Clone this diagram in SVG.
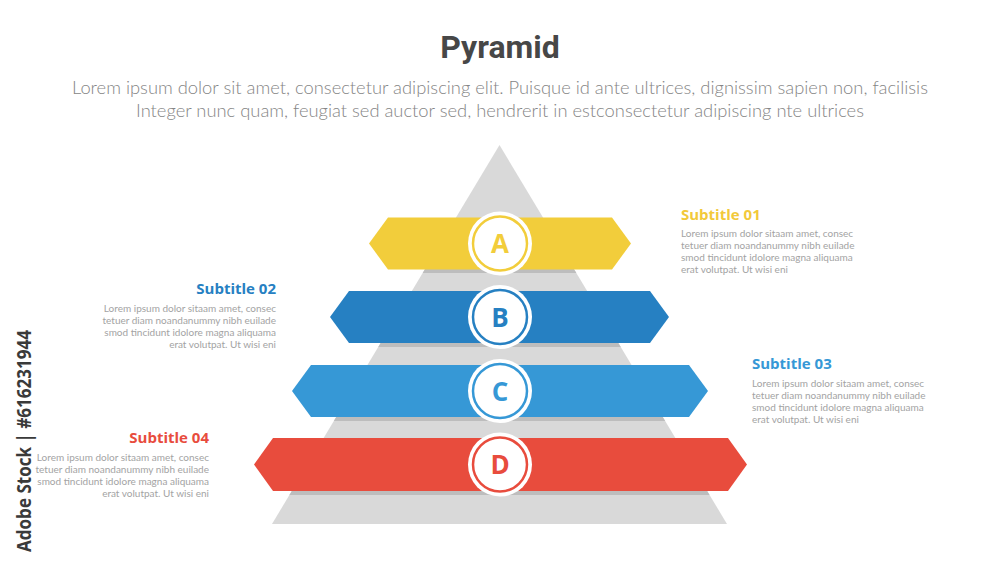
<svg xmlns="http://www.w3.org/2000/svg" width="1000" height="563" viewBox="0 0 1000 563">
<style>
.title{font-family:Roboto,"Liberation Sans",sans-serif;font-weight:700;font-size:32px;fill:#474747}
.lead{font-family:Lato,"Liberation Sans",sans-serif;font-weight:300;font-size:18.35px;fill:#858585}
.sub{font-family:"Open Sans","Liberation Sans",sans-serif;font-weight:700;font-size:15px}
.body{font-family:Lato,"Liberation Sans",sans-serif;font-size:10px;fill:#a3a3a3}
.letter{font-family:"Open Sans","Liberation Sans",sans-serif;font-weight:700;font-size:26px;text-anchor:middle}
.ring{fill:#fff;stroke-width:2.5}
.wm{font-family:"Open Sans","Liberation Sans",sans-serif;font-weight:700;font-size:19px;fill:#3a3a3a}
</style>
<defs>
<clipPath id="tri"><polygon points="499.5,145 272,524 727,524"/></clipPath>
</defs>
<rect width="1000" height="563" fill="#fff"/>
<text class="title" x="500" y="58" text-anchor="middle">Pyramid</text>
<text class="lead" x="500" y="94" text-anchor="middle">Lorem ipsum dolor sit amet, consectetur adipiscing elit. Puisque id ante ultrices, dignissim sapien non, facilisis</text>
<text class="lead" x="500" y="117" text-anchor="middle">Integer nunc quam, feugiat sed auctor sed, hendrerit in estconsectetur adipiscing nte ultrices</text>

<g id="pyramid">
<polygon points="499.5,145 272,524 727,524" fill="#d9d9d9"/>
<g clip-path="url(#tri)" fill="#bdbdbd">
<rect x="250" y="269" width="500" height="4"/>
<rect x="250" y="343" width="500" height="4"/>
<rect x="250" y="417" width="500" height="4"/>
<rect x="250" y="491" width="500" height="4"/>
</g>
</g>

<g id="node-a">
<polygon points="369,243.5 388,217.5 612,217.5 631,243.5 612,269.5 388,269.5" fill="#f2cd3b"/>
<circle cx="500" cy="243.5" r="32" fill="#fff"/>
<circle class="ring" cx="500" cy="243.5" r="27" stroke="#f2cd3b"/>
<text class="letter" x="500" y="253" fill="#f2cd3b">A</text>
</g>
<g id="node-b">
<polygon points="330,317 349,291 650,291 669,317 650,343 349,343" fill="#2680c2"/>
<circle cx="500" cy="317" r="32" fill="#fff"/>
<circle class="ring" cx="500" cy="317" r="27" stroke="#2680c2"/>
<text class="letter" x="500" y="326.5" fill="#2680c2">B</text>
</g>
<g id="node-c">
<polygon points="292,391 311,365 689,365 708,391 689,417 311,417" fill="#3698d6"/>
<circle cx="500" cy="391" r="32" fill="#fff"/>
<circle class="ring" cx="500" cy="391" r="27" stroke="#3698d6"/>
<text class="letter" x="500" y="400.5" fill="#3698d6">C</text>
</g>
<g id="node-d">
<polygon points="254,464.5 273,438 728,438 747,464.5 728,491 273,491" fill="#e84c3d"/>
<circle cx="500" cy="464.5" r="32" fill="#fff"/>
<circle class="ring" cx="500" cy="464.5" r="27" stroke="#e84c3d"/>
<text class="letter" x="500" y="474" fill="#e84c3d">D</text>
</g>

<g id="text-01">
<text class="sub" x="681" y="220" fill="#f2c93a">Subtitle 01</text>
<text class="body" x="681" y="237">Lorem ipsum dolor sitaam amet, consec</text>
<text class="body" x="681" y="249">tetuer diam noandanummy nibh euilade</text>
<text class="body" x="681" y="261">smod tincidunt idolore magna aliquama</text>
<text class="body" x="681" y="273">erat volutpat. Ut wisi eni</text>
</g>
<g id="text-02" text-anchor="end">
<text class="sub" x="276" y="294" fill="#2680c2">Subtitle 02</text>
<text class="body" x="276" y="312">Lorem ipsum dolor sitaam amet, consec</text>
<text class="body" x="276" y="324">tetuer diam noandanummy nibh euilade</text>
<text class="body" x="276" y="336">smod tincidunt idolore magna aliquama</text>
<text class="body" x="276" y="348">erat volutpat. Ut wisi eni</text>
</g>
<g id="text-03">
<text class="sub" x="752" y="369" fill="#3698d6">Subtitle 03</text>
<text class="body" x="752" y="387">Lorem ipsum dolor sitaam amet, consec</text>
<text class="body" x="752" y="399">tetuer diam noandanummy nibh euilade</text>
<text class="body" x="752" y="411">smod tincidunt idolore magna aliquama</text>
<text class="body" x="752" y="423">erat volutpat. Ut wisi eni</text>
</g>
<g id="text-04" text-anchor="end">
<text class="sub" x="209" y="443" fill="#e84c3d">Subtitle 04</text>
<text class="body" x="209" y="461">Lorem ipsum dolor sitaam amet, consec</text>
<text class="body" x="209" y="473">tetuer diam noandanummy nibh euilade</text>
<text class="body" x="209" y="485">smod tincidunt idolore magna aliquama</text>
<text class="body" x="209" y="497">erat volutpat. Ut wisi eni</text>
</g>

<text class="wm" transform="translate(31,552) rotate(-90)" x="0" y="0" textLength="222" lengthAdjust="spacingAndGlyphs">Adobe Stock | #616231944</text>
</svg>
